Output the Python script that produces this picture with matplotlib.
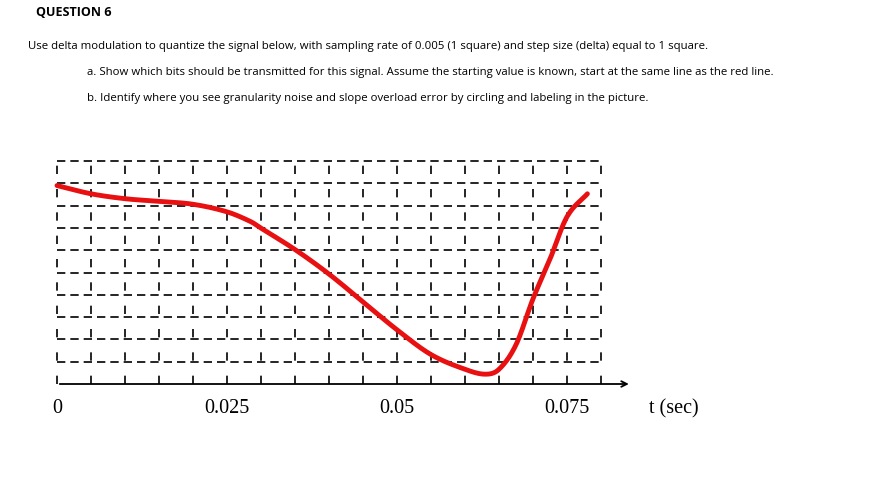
import matplotlib
matplotlib.use("Agg")
import matplotlib.pyplot as plt
import numpy as np

# signal samples (x in grid squares of 0.005 s, y in squares above axis)
sig_x = [0, 1, 2, 3, 4, 5, 5.7, 6, 7, 8, 9, 10, 11, 12, 12.6, 13, 13.5, 14, 14.5, 15, 15.6]
sig_y = [8.9, 8.53, 8.31, 8.19, 8.06, 7.72, 7.28, 6.99, 6.03, 4.93, 3.68, 2.43, 1.32, 0.66, 0.44, 0.66, 1.76, 3.82, 5.6, 7.5, 8.53]
tick_pos = [0, 5, 10, 15]
tick_labels = ["0", "0.025", "0.05", "0.075"]
n_cols, n_rows = 16, 10

W, H = 886, 478
fig = plt.figure(figsize=(W/100, H/100), dpi=100)
fig.patch.set_facecolor("white")

def fx(px): return px / W
def fy(py): return 1 - py / H

fig.text(fx(36), fy(12), "QUESTION 6", fontsize=9, fontweight="bold", family="Open Sans", va="center")
fig.text(fx(28), fy(46), "Use delta modulation to quantize the signal below, with sampling rate of 0.005 (1 square) and step size (delta) equal to 1 square.",
         fontsize=8.2, family="Open Sans", va="center")
fig.text(fx(87), fy(73), "a. Show which bits should be transmitted for this signal. Assume the starting value is known, start at the same line as the red line.",
         fontsize=8.2, family="Open Sans", va="center")
fig.text(fx(87), fy(98), "b. Identify where you see granularity noise and slope overload error by circling and labeling in the picture.",
         fontsize=8.2, family="Open Sans", va="center")

unit = 34.0
left, top, bottom = 57, 161, 384
right = left + 17 * unit
ax = fig.add_axes([fx(left), fy(bottom), (right - left) / W, (bottom - top) / H])
ax.set_xlim(0, 17)
ax.set_ylim(0, n_rows)
ax.axis("off")

for r in range(1, n_rows + 1):
    ax.plot([0, n_cols], [r, r], color="black", lw=1.2, ls=(0, (5, 3)), clip_on=False)
for c in range(n_cols + 1):
    ax.plot([c, c], [0, n_rows], color="black", lw=1.2, ls=(0, (5, 9)), clip_on=False)
ax.annotate("", xy=(16.9, 0), xytext=(0, 0),
            arrowprops=dict(arrowstyle="->", color="black", lw=1.3), annotation_clip=False)

xs = np.array(sig_x); ys = np.array(sig_y)
t = np.linspace(xs[0], xs[-1], 400)
def cr(xq):
    out = []
    for q in xq:
        i = np.searchsorted(xs, q) - 1
        i = min(max(i, 0), len(xs) - 2)
        p0 = ys[max(i-1, 0)]; p1 = ys[i]; p2 = ys[i+1]; p3 = ys[min(i+2, len(xs)-1)]
        x0 = xs[max(i-1, 0)]; x1 = xs[i]; x2 = xs[i+1]; x3 = xs[min(i+2, len(xs)-1)]
        h = x2 - x1; u = (q - x1) / h
        m1 = (p2 - p0) / (x2 - x0) * h if x2 != x0 else 0
        m2 = (p3 - p1) / (x3 - x1) * h if x3 != x1 else 0
        h00 = 2*u**3 - 3*u**2 + 1; h10 = u**3 - 2*u**2 + u
        h01 = -2*u**3 + 3*u**2; h11 = u**3 - u**2
        out.append(h00*p1 + h10*m1 + h01*p2 + h11*m2)
    return np.array(out)
ax.plot(t, cr(t), color="#e81010", lw=3.5, solid_capstyle="round", clip_on=False)

for p, lab in zip(tick_pos, tick_labels):
    ax.text(p, -1.1, lab, ha="center", va="center", fontsize=14.5, family="Liberation Serif")
ax.text(17.4, -1.1, "t (sec)", ha="left", va="center", fontsize=14.5, family="Liberation Serif")

fig.savefig("out.png", dpi=100)
